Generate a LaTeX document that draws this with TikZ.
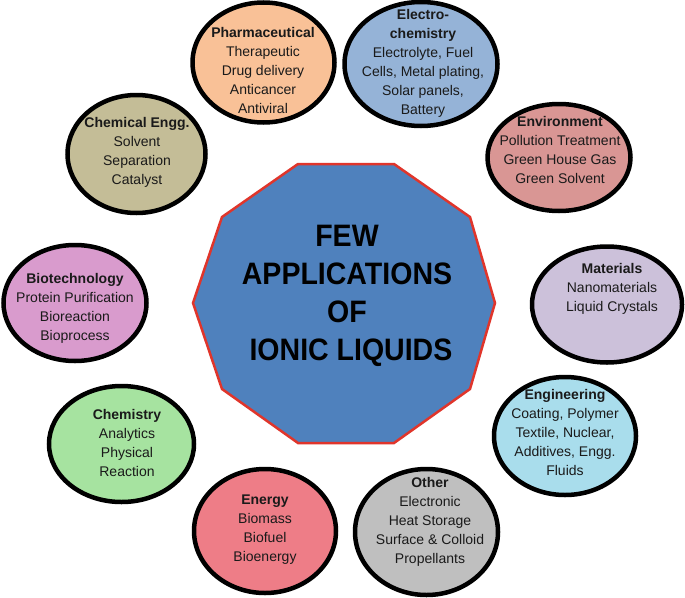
\documentclass[tikz,border=0pt]{standalone}
\usepackage{fontspec}
\setmainfont{Liberation Sans}
\newfontfamily\condsans[FakeStretch=0.92]{Liberation Sans}
\usetikzlibrary{shapes.geometric}
\definecolor{cPh}{HTML}{F9C197}
\definecolor{cEl}{HTML}{95B3D7}
\definecolor{cEnv}{HTML}{D99694}
\definecolor{cCE}{HTML}{C4BD97}
\definecolor{cBio}{HTML}{D99BCD}
\definecolor{cMat}{HTML}{CCC1DA}
\definecolor{cEng}{HTML}{A9DDEC}
\definecolor{cChem}{HTML}{A6E3A0}
\definecolor{cEn}{HTML}{EE7D87}
\definecolor{cOth}{HTML}{BFBFBF}
\definecolor{cDec}{HTML}{4F81BD}
\definecolor{cDecLine}{HTML}{E0352B}
\definecolor{txt}{HTML}{1A1A1A}
\tikzset{
  bub/.style={ellipse, draw=black, line width=4.5pt, inner sep=0pt},
  btxt/.style={align=center, inner sep=0pt, text=txt, font=\fontsize{14}{19}\selectfont},
  ctxt/.style={align=center, inner sep=0pt, text=black, font=\condsans\fontsize{31}{38}\selectfont\bfseries},
}
\begin{document}
\begin{tikzpicture}[x=1pt,y=-1pt]
\useasboundingbox (0,0) rectangle (685,597);
\fill[white] (0,0) rectangle (685,597);

% central decagon
\coordinate (d1) at (298,164);
\coordinate (d2) at (394,164);
\coordinate (d3) at (470,217);
\coordinate (d4) at (495,303);
\coordinate (d5) at (470,389);
\coordinate (d6) at (394,443);
\coordinate (d7) at (298,443);
\coordinate (d8) at (222,389);
\coordinate (d9) at (193,303);
\coordinate (d10) at (222,217);
\draw[fill=cDec, draw=cDecLine, line width=2.5pt, line join=miter]
  (d1) -- (d2) -- (d3) -- (d4) -- (d5) -- (d6) -- (d7) -- (d8) -- (d9) -- (d10) -- cycle;
\node[ctxt] (center) at (347,296) {FEW\\APPLICATIONS\\OF\\\ IONIC LIQUIDS};

% bubbles
\node[bub, fill=cPh, minimum width=142pt, minimum height=120pt] (ph) at (263.5,62.5) {};
\node[btxt] (phT) at (263,70) {\textbf{Pharmaceutical}\\Therapeutic\\Drug delivery\\Anticancer\\Antiviral};

\node[bub, fill=cEl, minimum width=153pt, minimum height=124pt] (el) at (421,64) {};
\node[btxt] (elT) at (423,63) {\textbf{Electro-}\\\textbf{chemistry}\\Electrolyte, Fuel\\Cells, Metal plating,\\Solar panels,\\Battery};

\node[bub, fill=cEnv, minimum width=143pt, minimum height=107pt] (env) at (559,157.5) {};
\node[btxt] (envT) at (560,150) {\textbf{Environment}\\Pollution Treatment\\Green House Gas\\Green Solvent};

\node[bub, fill=cCE, minimum width=138pt, minimum height=118pt] (ce) at (136.5,154) {};
\node[btxt] (ceT) at (137,152) {\textbf{Chemical Engg.}\\Solvent\\Separation\\Catalyst};

\node[bub, fill=cBio, minimum width=143pt, minimum height=116pt] (bio) at (75,303) {};
\node[btxt] (bioT) at (75,308) {\textbf{Biotechnology}\\Protein Purification\\Bioreaction\\Bioprocess};

\node[bub, fill=cMat, minimum width=150pt, minimum height=116pt] (mat) at (607,304.5) {};
\node[btxt] (matT) at (612,289) {\textbf{Materials}\\Nanomaterials\\Liquid Crystals};

\node[bub, fill=cEng, minimum width=142pt, minimum height=118pt] (eng) at (565,436) {};
\node[btxt] (engT) at (565,432.5) {\textbf{Engineering}\\Coating, Polymer\\Textile, Nuclear,\\Additives, Engg.\\Fluids};

\node[bub, fill=cChem, minimum width=145pt, minimum height=116pt] (chem) at (121.5,444) {};
\node[btxt] (chemT) at (127,442.5) {\textbf{Chemistry}\\Analytics\\Physical\\Reaction};

\node[bub, fill=cEn, minimum width=142pt, minimum height=124pt] (en) at (265,531) {};
\node[btxt] (enT) at (265,530) {\textbf{Energy}\\Biomass\\Biofuel\\Bioenergy};

\node[bub, fill=cOth, minimum width=143pt, minimum height=126pt] (oth) at (426.5,532) {};
\node[btxt] (othT) at (430,522) {\textbf{Other}\\Electronic\\Heat Storage\\Surface \& Colloid\\Propellants};
\end{tikzpicture}
\end{document}
